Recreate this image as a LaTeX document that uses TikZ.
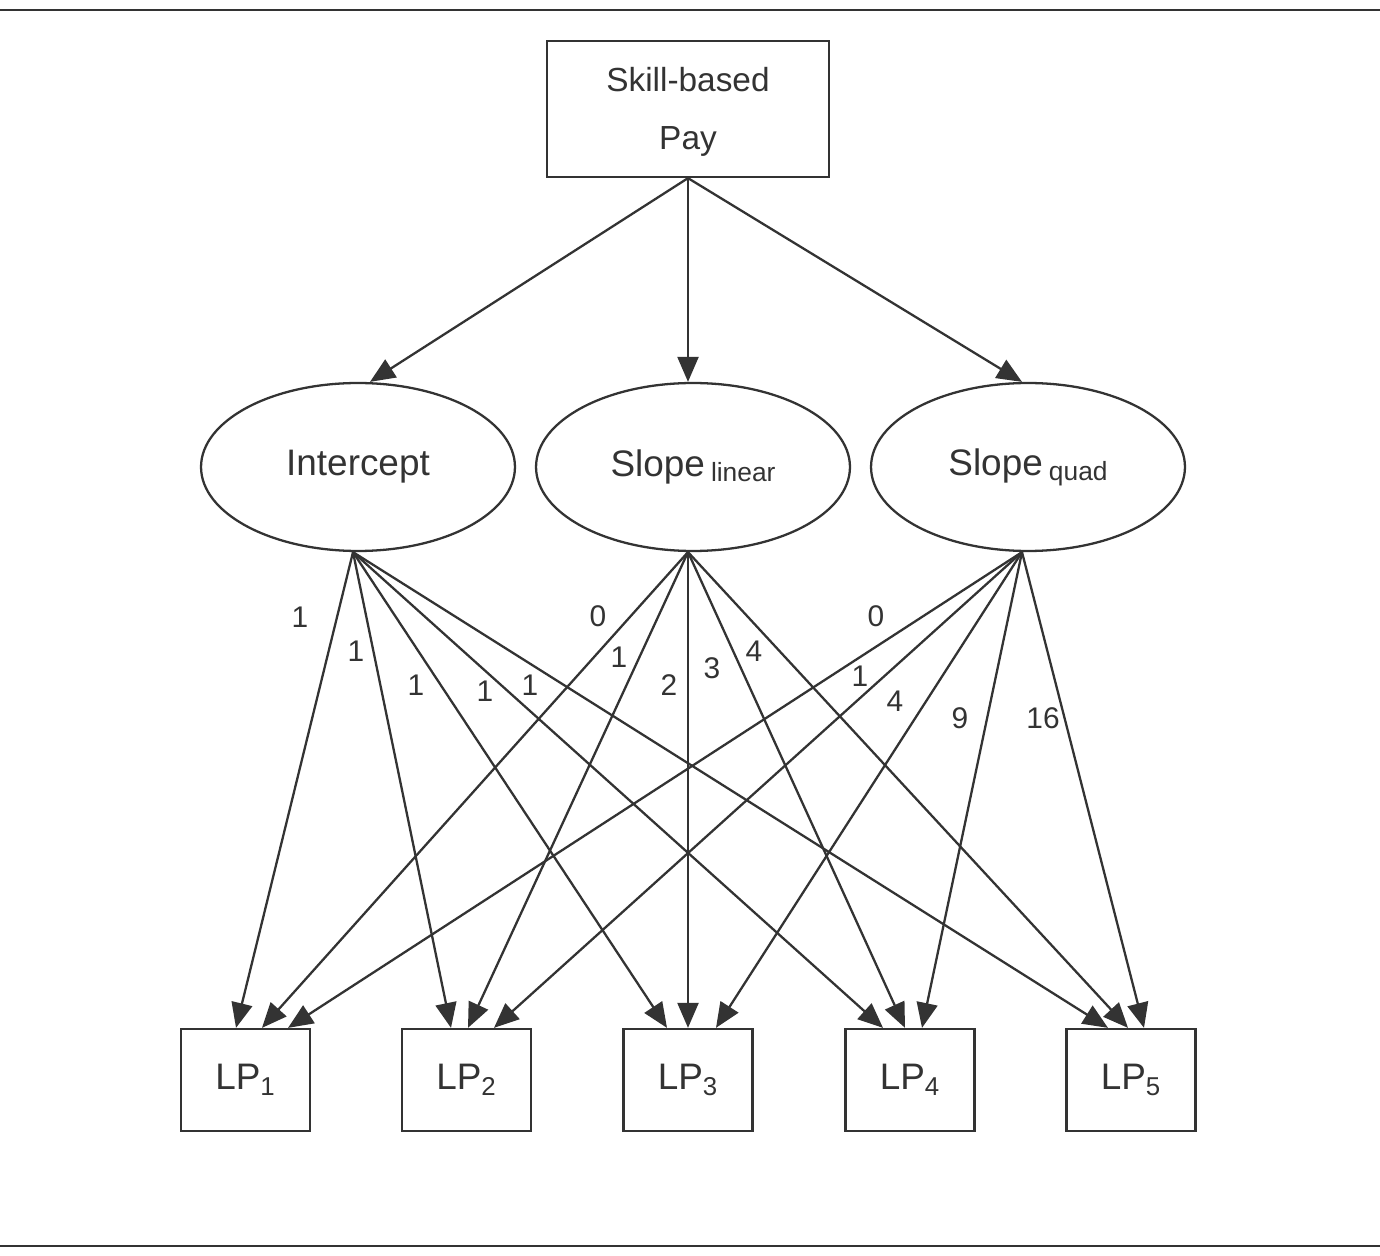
\documentclass[tikz,border=0pt]{standalone}
\usepackage{fontspec}
\setmainfont{Liberation Sans}
\usetikzlibrary{shapes,arrows.meta,positioning,calc}
\definecolor{ink}{HTML}{333333}
\tikzset{
  box/.style={draw=ink,line width=1.3pt,minimum width=2.58cm,minimum height=2.04cm,font=\fontsize{21}{24}\selectfont,text=ink},
  lat/.style={draw=ink,line width=1.3pt,ellipse,minimum width=6.28cm,minimum height=3.36cm,font=\fontsize{21}{24}\selectfont,text=ink},
  arr/.style={draw=ink,line width=1.3pt,-{Triangle[length=0.5cm,width=0.42cm]}},
  wt/.style={font=\fontsize{17}{20}\selectfont,text=ink,inner sep=0pt}
}
\begin{document}
\begin{tikzpicture}[x=0.02cm,y=-0.02cm]
  \useasboundingbox (0,0) rectangle (1380,1256);
  \draw[ink,line width=1pt] (0,10) -- (1380,10);
  \draw[ink,line width=1pt] (0,1246) -- (1380,1246);

  \node[box,minimum width=5.64cm,minimum height=2.72cm,inner sep=0pt,font=\fontsize{19}{33}\selectfont] (sbp) at (688,109)
    {\raisebox{-0.18cm}{\begin{tabular}{@{}c@{}}Skill-based\\Pay\end{tabular}}};

  \node[lat] (int) at (358,467) {\raisebox{-0.2ex}{Intercept}};
  \node[lat] (lin) at (693,467) {\raisebox{-0.2ex}{Slope\,{\fontsize{15}{15}\selectfont\raisebox{-0.35ex}{linear}}}};
  \node[lat] (quad) at (1028,467) {\raisebox{-0.2ex}{Slope\,{\fontsize{15}{15}\selectfont\raisebox{-0.35ex}{quad}}}};

  \node[box] (lp1) at (245.5,1080) {LP\textsubscript{1}};
  \node[box] (lp2) at (466.5,1080) {LP\textsubscript{2}};
  \node[box] (lp3) at (688,1080) {LP\textsubscript{3}};
  \node[box] (lp4) at (910,1080) {LP\textsubscript{4}};
  \node[box] (lp5) at (1131,1080) {LP\textsubscript{5}};

  % top level paths
  \draw[arr] (sbp.south) -- ($(int.north)+(12,0)$);
  \draw[arr] (sbp.south) -- (sbp.south |- lin.north);
  \draw[arr] (sbp.south) -- ($(quad.north)+(-6,0)$);

  % loadings from intercept
  \draw[arr] ($(int.south)+(-5,0)$) -- ($(lp1.north)+(-9.5,0)$);
  \draw[arr] ($(int.south)+(-5,0)$) -- ($(lp2.north)+(-15.5,0)$);
  \draw[arr] ($(int.south)+(-5,0)$) -- ($(lp3.north)+(-21,0)$);
  \draw[arr] ($(int.south)+(-5,0)$) -- ($(lp4.north)+(-27,0)$);
  \draw[arr] ($(int.south)+(-5,0)$) -- ($(lp5.north)+(-23,0)$);
  % loadings from linear slope
  \draw[arr] ($(lin.south)+(-5,0)$) -- ($(lp1.north)+(16.5,0)$);
  \draw[arr] ($(lin.south)+(-5,0)$) -- ($(lp2.north)+(1.5,0)$);
  \draw[arr] ($(lin.south)+(-5,0)$) -- ($(lp3.north)+(0,0)$);
  \draw[arr] ($(lin.south)+(-5,0)$) -- ($(lp4.north)+(-5,0)$);
  \draw[arr] ($(lin.south)+(-5,0)$) -- ($(lp5.north)+(-3,0)$);
  % loadings from quadratic slope
  \draw[arr] ($(quad.south)+(-6,0)$) -- ($(lp1.north)+(42.5,0)$);
  \draw[arr] ($(quad.south)+(-6,0)$) -- ($(lp2.north)+(27.5,0)$);
  \draw[arr] ($(quad.south)+(-6,0)$) -- ($(lp3.north)+(28,0)$);
  \draw[arr] ($(quad.south)+(-6,0)$) -- ($(lp4.north)+(12,0)$);
  \draw[arr] ($(quad.south)+(-6,0)$) -- ($(lp5.north)+(13,0)$);

  % weights
  \node[wt] (w11) at (300,617) {1};
  \node[wt] (w12) at (356,651) {1};
  \node[wt] (w13) at (416,685) {1};
  \node[wt] (w14) at (485,691) {1};
  \node[wt] (w15) at (530,685) {1};
  \node[wt] (w21) at (598,616) {0};
  \node[wt] (w22) at (619,657) {1};
  \node[wt] (w23) at (669,685) {2};
  \node[wt] (w24) at (712,668) {3};
  \node[wt] (w25) at (754,651) {4};
  \node[wt] (w31) at (876,616) {0};
  \node[wt] (w32) at (860,676) {1};
  \node[wt] (w33) at (895,701) {4};
  \node[wt] (w34) at (960,718) {9};
  \node[wt] (w35) at (1043,718) {16};
\end{tikzpicture}
\end{document}
